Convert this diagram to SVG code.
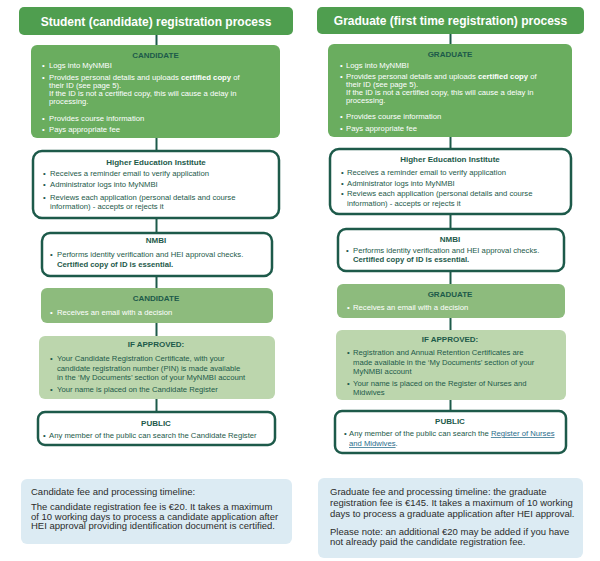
<svg xmlns="http://www.w3.org/2000/svg" width="600" height="561" viewBox="0 0 600 561">
<style>
text{font-family:"Liberation Sans",Arial,sans-serif;}
.title{font-size:12px;font-weight:bold;fill:#ffffff;text-anchor:middle;}
.hd{font-size:8px;font-weight:bold;fill:#1d5a4a;text-anchor:middle;}
.w{font-size:7.7px;fill:#ffffff;}
.d{font-size:7.7px;fill:#1d5a4a;}
.b{font-weight:bold;}
.fee{font-size:9.5px;fill:#2b2b2b;}
.tbox{fill:#4f9e4f;}
.g1{fill:#6aad5f;}
.g2{fill:#8dbb7d;}
.g3{fill:#bcd6ad;}
.wb{fill:#ffffff;stroke:#1d5a4a;stroke-width:2.5;}
.feebox{fill:#dcebf3;}
.conn{stroke:#1d5a4a;stroke-width:2;}
.link{fill:#2a6e8c;text-decoration:underline;}
</style>
<rect width="600" height="561" fill="#ffffff"/>
<g id="connectors">
<line class="conn" x1="156.5" y1="35" x2="156.5" y2="45"/>
<line class="conn" x1="156.5" y1="138" x2="156.5" y2="150"/>
<line class="conn" x1="156.5" y1="219" x2="156.5" y2="232"/>
<line class="conn" x1="156.5" y1="277" x2="156.5" y2="288"/>
<line class="conn" x1="156.5" y1="323" x2="156.5" y2="336"/>
<line class="conn" x1="156.5" y1="399" x2="156.5" y2="412"/>
<line class="conn" x1="450.5" y1="34" x2="450.5" y2="44"/>
<line class="conn" x1="450.5" y1="137" x2="450.5" y2="148"/>
<line class="conn" x1="450.5" y1="215" x2="450.5" y2="228"/>
<line class="conn" x1="450.5" y1="272" x2="450.5" y2="284"/>
<line class="conn" x1="450.5" y1="318" x2="450.5" y2="330"/>
<line class="conn" x1="450.5" y1="400" x2="450.5" y2="411"/>
</g>
<g id="left-title">
<rect class="tbox" x="19" y="7" width="274" height="28" rx="5"/>
<text class="title" x="156" y="25.5">Student (candidate) registration process</text>
</g>
<g id="left-candidate">
<rect class="g1" x="31" y="45" width="249" height="93" rx="6"/>
<text class="hd" x="155.5" y="58">CANDIDATE</text>
<text class="w" x="42" y="68">•</text><text class="w" x="49" y="68">Logs into MyNMBI</text>
<text class="w" x="42" y="80">•</text><text class="w" x="49" y="80">Provides personal details and uploads <tspan class="b">certified copy</tspan> of</text>
<text class="w" x="49" y="88">their ID (see page 5).</text>
<text class="w" x="49" y="96">If the ID is not a certified copy, this will cause a delay in</text>
<text class="w" x="49" y="103.5">processing.</text>
<text class="w" x="42" y="120.5">•</text><text class="w" x="49" y="120.5">Provides course information</text>
<text class="w" x="42" y="132">•</text><text class="w" x="49" y="132">Pays appropriate fee</text>
</g>
<g id="left-hei">
<rect class="wb" x="33" y="151" width="246" height="67" rx="9"/>
<text class="hd" x="156" y="165">Higher Education Institute</text>
<text class="d" x="43" y="176">•</text><text class="d" x="50" y="176">Receives a reminder email to verify application</text>
<text class="d" x="43" y="187">•</text><text class="d" x="50" y="187">Administrator logs into MyNMBI</text>
<text class="d" x="43" y="199.5">•</text><text class="d" x="50" y="199.5">Reviews each application (personal details and course</text>
<text class="d" x="50" y="209">information) - accepts or rejects it</text>
</g>
<g id="left-nmbi">
<rect class="wb" x="42" y="233" width="230" height="43" rx="8"/>
<text class="hd" x="156" y="243">NMBI</text>
<text class="d" x="50" y="257">•</text><text class="d" x="57" y="257">Performs identity verification and HEI approval checks.</text>
<text class="d b" x="57" y="267">Certified copy of ID is essential.</text>
</g>
<g id="left-decision">
<rect class="g2" x="41" y="288" width="232" height="35" rx="6"/>
<text class="hd" x="156" y="301">CANDIDATE</text>
<text class="w" x="50" y="315">•</text><text class="w" x="57" y="315">Receives an email with a decision</text>
</g>
<g id="left-approved">
<rect class="g3" x="39" y="336" width="236" height="63" rx="6"/>
<text class="hd" x="156" y="347">IF APPROVED:</text>
<text class="d" x="50" y="361">•</text><text class="d" x="57" y="361">Your Candidate Registration Certificate, with your</text>
<text class="d" x="57" y="370.5">candidate registration number (PIN) is made available</text>
<text class="d" x="57" y="380">in the ‘My Documents’ section of your MyNMBI account</text>
<text class="d" x="50" y="392">•</text><text class="d" x="57" y="392">Your name is placed on the Candidate Register</text>
</g>
<g id="left-public">
<rect class="wb" x="38" y="412" width="237" height="33" rx="7"/>
<text class="hd" x="156" y="426">PUBLIC</text>
<text class="d" x="43" y="437.5">•</text><text class="d" x="49" y="437.5">Any member of the public can search the Candidate Register</text>
</g>
<g id="left-fee">
<rect class="feebox" x="21" y="479" width="271" height="65" rx="6"/>
<text class="fee" x="31" y="495">Candidate fee and processing timeline:</text>
<text class="fee" x="31" y="510">The candidate registration fee is €20. It takes a maximum</text>
<text class="fee" x="31" y="519.5">of 10 working days to process a candidate application after</text>
<text class="fee" x="31" y="529">HEI approval providing identification document is certified.</text>
</g>
<g id="right-title">
<rect class="tbox" x="317" y="7" width="267" height="27" rx="5"/>
<text class="title" x="450.5" y="25">Graduate (first time registration) process</text>
</g>
<g id="right-graduate">
<rect class="g1" x="328" y="44" width="244" height="93" rx="6"/>
<text class="hd" x="450" y="56.5">GRADUATE</text>
<text class="w" x="340" y="67.5">•</text><text class="w" x="346" y="67.5">Logs into MyNMBI</text>
<text class="w" x="340" y="79">•</text><text class="w" x="346" y="79">Provides personal details and uploads <tspan class="b">certified copy</tspan> of</text>
<text class="w" x="346" y="87">their ID (see page 5).</text>
<text class="w" x="346" y="95">If the ID is not a certified copy, this will cause a delay in</text>
<text class="w" x="346" y="102.5">processing.</text>
<text class="w" x="340" y="119">•</text><text class="w" x="346" y="119">Provides course information</text>
<text class="w" x="340" y="130.5">•</text><text class="w" x="346" y="130.5">Pays appropriate fee</text>
</g>
<g id="right-hei">
<rect class="wb" x="330" y="149" width="241" height="65" rx="9"/>
<text class="hd" x="450" y="162">Higher Education Institute</text>
<text class="d" x="341" y="174.5">•</text><text class="d" x="347" y="174.5">Receives a reminder email to verify application</text>
<text class="d" x="341" y="185.5">•</text><text class="d" x="347" y="185.5">Administrator logs into MyNMBI</text>
<text class="d" x="341" y="196">•</text><text class="d" x="347" y="196">Reviews each application (personal details and course</text>
<text class="d" x="347" y="206">information) - accepts or rejects it</text>
</g>
<g id="right-nmbi">
<rect class="wb" x="338" y="229" width="226" height="42" rx="8"/>
<text class="hd" x="450" y="242">NMBI</text>
<text class="d" x="346" y="252.5">•</text><text class="d" x="353" y="252.5">Performs identity verification and HEI approval checks.</text>
<text class="d b" x="353" y="262">Certified copy of ID is essential.</text>
</g>
<g id="right-decision">
<rect class="g2" x="337" y="284" width="228" height="34" rx="6"/>
<text class="hd" x="450" y="297">GRADUATE</text>
<text class="w" x="347" y="310">•</text><text class="w" x="353" y="310">Receives an email with a decision</text>
</g>
<g id="right-approved">
<rect class="g3" x="336" y="330" width="230" height="70" rx="6"/>
<text class="hd" x="450" y="342">IF APPROVED:</text>
<text class="d" x="347" y="354.5">•</text><text class="d" x="353" y="354.5">Registration and Annual Retention Certificates are</text>
<text class="d" x="353" y="364.5">made available in the ‘My Documents’ section of your</text>
<text class="d" x="353" y="374">MyNMBI account</text>
<text class="d" x="347" y="385.5">•</text><text class="d" x="353" y="385.5">Your name is placed on the Register of Nurses and</text>
<text class="d" x="353" y="395">Midwives</text>
</g>
<g id="right-public">
<rect class="wb" x="335" y="411" width="231" height="42" rx="7"/>
<text class="hd" x="450" y="424">PUBLIC</text>
<text class="d" x="344" y="436">•</text><text class="d" x="349" y="436">Any member of the public can search the <tspan class="link">Register of Nurses</tspan></text>
<text class="d" x="349" y="446"><tspan class="link">and Midwives</tspan>.</text>
</g>
<g id="right-fee">
<rect class="feebox" x="318" y="478" width="265" height="80" rx="6"/>
<text class="fee" x="330" y="495">Graduate fee and processing timeline: the graduate</text>
<text class="fee" x="330" y="506">registration fee is €145. It takes a maximum of 10 working</text>
<text class="fee" x="330" y="516.5">days to process a graduate application after HEI approval.</text>
<text class="fee" x="330" y="535">Please note: an additional €20 may be added if you have</text>
<text class="fee" x="330" y="545">not already paid the candidate registration fee.</text>
</g>
</svg>
